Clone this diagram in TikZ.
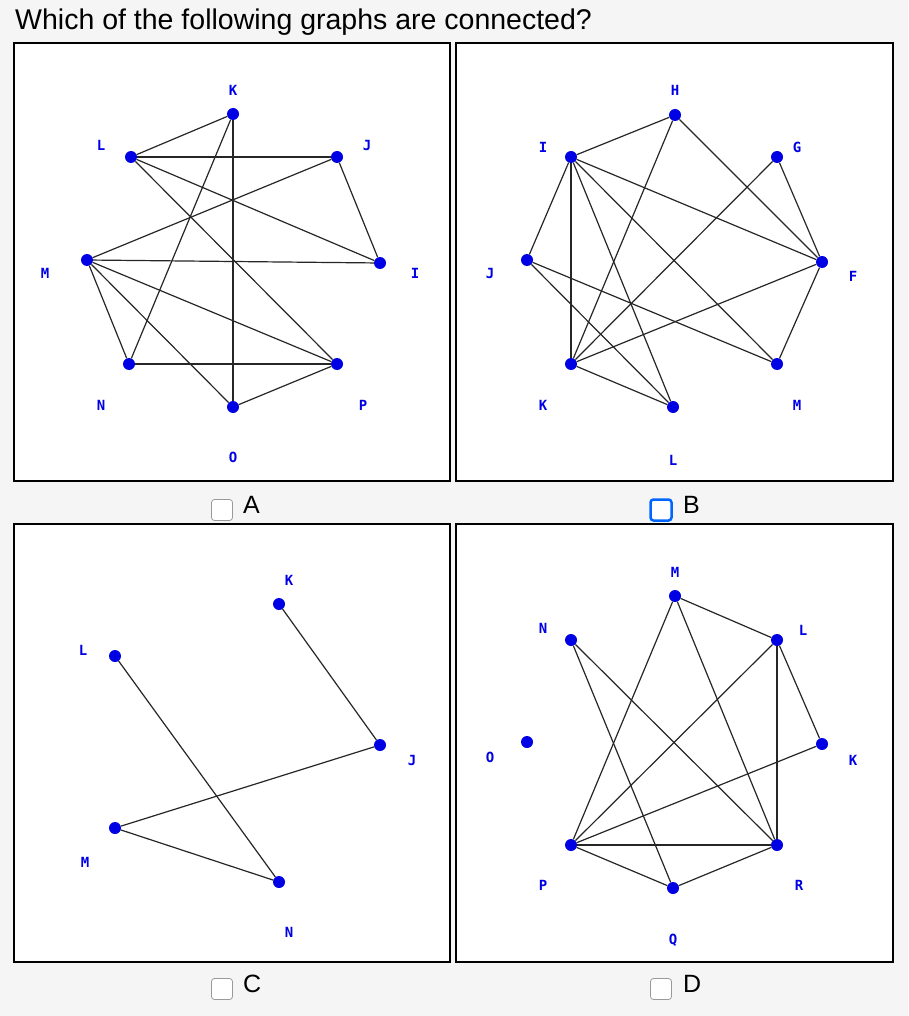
\documentclass[tikz,border=0pt]{standalone}
\usepackage{fontspec}
\setmainfont{Liberation Sans}
\newfontfamily\lblfont{DejaVu Sans Mono Bold}
\begin{document}
\begin{tikzpicture}[x=1pt,y=-1pt,
 vtx/.style={circle,fill=blue!90!black,inner sep=0pt,minimum size=12pt},
 lbl/.style={text=blue!90!black,font=\lblfont\fontsize{14}{14}\selectfont},
 edge/.style={draw=black!85,line width=1.2pt},
 panel/.style={draw=black,fill=white,line width=1.2pt},
 cbox/.style={draw=gray!80,fill=white,rounded corners=3pt,minimum size=21pt,inner sep=0pt,line width=0.8pt},
 opt/.style={font=\fontsize{25}{25}\selectfont}]
\fill[black!4] (0,0) rectangle (908,1016);
\useasboundingbox (0,0) rectangle (908,1016);
\node[anchor=west,font=\fontsize{28.5}{28.5}\selectfont,inner sep=0pt] (title) at (15,22) {Which of the following graphs are connected?};
\draw[panel] (14,43) rectangle (450,481);
\draw[panel] (456,43) rectangle (893,481);
\draw[panel] (14,524) rectangle (450,962);
\draw[panel] (456,524) rectangle (893,962);
% A
\foreach \n/\x/\y in {K/233/114,L/131/157,J/337/157,M/87/260,I/380/263,N/129/364,P/337/364,O/233/407}
  \node[vtx] (a\n) at (\x,\y) {};
\foreach \a/\b in {L/K,L/J,L/I,L/P,K/N,K/O,J/I,J/M,M/I,M/P,M/N,M/O,N/P,O/P}
  \draw[edge] (a\a) -- (a\b);
\foreach \n/\x/\y in {K/233/90,L/101/145,J/367/145,M/45/273,I/415/273,N/101/405,P/363/405,O/233/457}
  \node[lbl] (la\n) at (\x,\y) {\n};
% B
\foreach \n/\x/\y in {H/675/115,I/571/157,G/777/157,J/527/260,F/822/262,K/571/364,M/777/364,L/673/407}
  \node[vtx] (b\n) at (\x,\y) {};
\foreach \a/\b in {I/H,I/J,I/K,I/L,I/M,I/F,H/K,H/F,G/K,G/F,F/K,F/M,J/M,J/L,K/L}
  \draw[edge] (b\a) -- (b\b);
\foreach \n/\x/\y in {H/675/90,I/543/147,G/797/147,J/490/273,F/853/276,K/543/405,M/797/405,L/673/460}
  \node[lbl] (lb\n) at (\x,\y) {\n};
% C
\foreach \n/\x/\y in {K/279/604,L/115/656,J/380/745,M/115/828,N/279/882}
  \node[vtx] (c\n) at (\x,\y) {};
\foreach \a/\b in {K/J,L/N,J/M,M/N}
  \draw[edge] (c\a) -- (c\b);
\foreach \n/\x/\y in {K/289/580,L/83/650,J/412/760,M/85/862,N/289/932}
  \node[lbl] (lc\n) at (\x,\y) {\n};
% D
\foreach \n/\x/\y in {M/675/596,N/571/640,L/777/640,O/527/742,K/822/744,P/571/845,R/777/845,Q/673/888}
  \node[vtx] (d\n) at (\x,\y) {};
\foreach \a/\b in {M/L,M/P,M/R,N/Q,N/R,L/K,L/P,L/R,K/P,P/R,P/Q,Q/R}
  \draw[edge] (d\a) -- (d\b);
\foreach \n/\x/\y in {M/675/572,N/543/628,L/803/630,O/490/757,K/853/760,P/543/885,R/799/885,Q/673/940}
  \node[lbl] (ld\n) at (\x,\y) {\n};
% options
\node[cbox] (boxA) at (222,510) {};
\node[opt,anchor=west,inner sep=0pt] (optA) at (243,505) {A};
\node[cbox,draw=blue!60!cyan,line width=2.5pt] (boxB) at (661,510) {};
\node[opt,anchor=west,inner sep=0pt] (optB) at (683,505) {B};
\node[cbox] (boxC) at (222,989) {};
\node[opt,anchor=west,inner sep=0pt] (optC) at (243,984) {C};
\node[cbox] (boxD) at (661,989) {};
\node[opt,anchor=west,inner sep=0pt] (optD) at (683,984) {D};
\end{tikzpicture}
\end{document}
